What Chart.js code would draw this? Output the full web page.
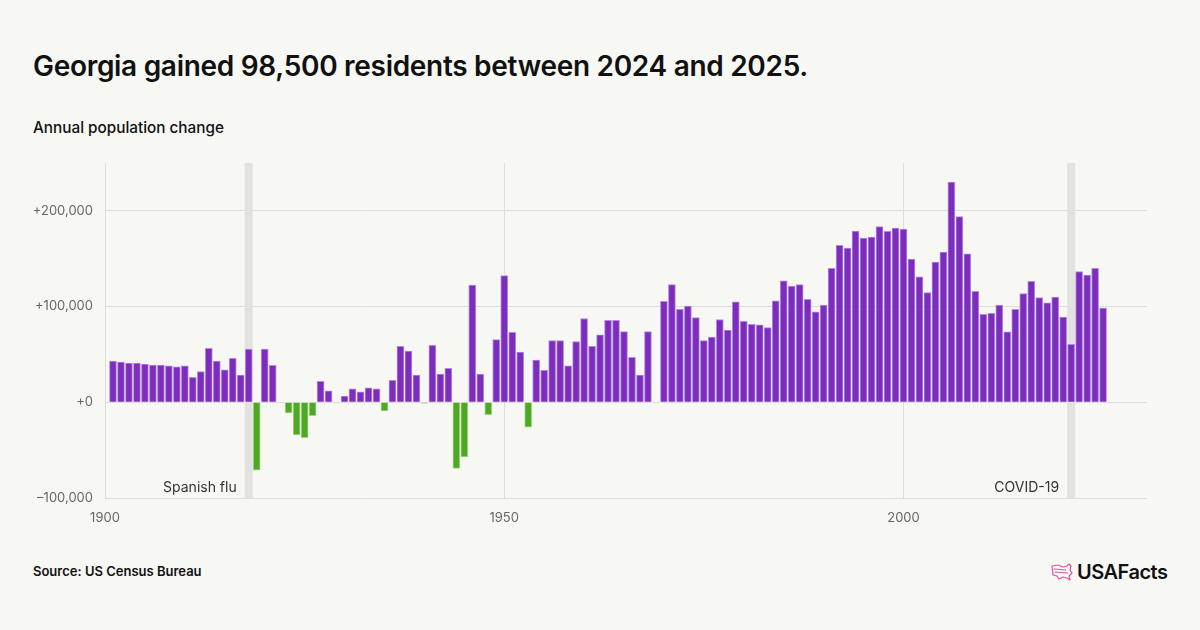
<!DOCTYPE html>
<html>
<head>
<meta charset="utf-8">
<script src="https://cdn.jsdelivr.net/npm/chart.js@4"></script>
<style>
  html, body { margin: 0; padding: 0; background: #f7f7f3; }
  body { width: 1200px; height: 630px; position: relative; overflow: hidden; font-family: Inter, "Noto Sans", sans-serif; color: #111; }
  #title { position: absolute; left: 33px; top: 49px; font-size: 28px; font-weight: 600; letter-spacing: -0.3px; }
  #subtitle { position: absolute; left: 33px; top: 118px; font-size: 15.3px; font-weight: 500; }
  #source { position: absolute; left: 33px; top: 563px; font-size: 13px; font-weight: 600; }
  #logo { position: absolute; left: 1051px; top: 560px; display: flex; align-items: center; }
  #logo span { font-size: 20px; font-weight: 600; letter-spacing: -0.5px; margin-left: 4px; }
  #wrap { position: absolute; left: 0; top: 140px; width: 1200px; height: 400px; }
</style>
</head>
<body>
<div id="title">Georgia gained 98,500 residents between 2024 and 2025.</div>
<div id="subtitle">Annual population change</div>
<div id="wrap"><canvas id="chart"></canvas></div>
<div id="source">Source: US Census Bureau</div>
<div id="logo">
  <svg width="22" height="18" viewBox="0 0 22 18">
    <path d="M1 3 L7 2 L12 4 L16 3 L18 1 L20 3 L19 7 L21 10 L18 13 L19 17 L16 15 L12 14 L8 16 L6 13 L2 12 Z M3 6 L15 7 M4 9 L17 10" fill="none" stroke="#ea4f9c" stroke-width="1.2" stroke-linejoin="round"/>
  </svg>
  <span>USAFacts</span>
</div>

<script>
const firstYear = 1901;
const changes = [
  43000, 42000, 41000, 41000, 40000, 39000, 39000, 38000, 37000, 38000,
  26000, 32000, 56500, 43000, 34000, 46000, 28500, 55500, -71000, 55500,
  38500, null, -11000, -34000, -37000, -14000, 22000, 12000, null, 6500,
  14000, 11000, 15000, 14000, -9000, 23000, 58500, 53500, 28500, -1000,
  59500, 29500, 35500, -69000, -57000, 122500, 29500, -13000, 65500, 132500,
  73000, 52500, -26000, 44000, 33500, 64500, 64500, 38000, 63500, 87500,
  58500, 70500, 85500, 85500, 74000, 47000, 28500, 74000, null, 105500,
  123000, 97000, 100500, 88500, 64500, 68000, 86500, 75500, 105000, 84500,
  81500, 81000, 78000, 106000, 127000, 121500, 123000, 107500, 94500, 101500,
  140000, 164000, 161000, 179000, 171500, 172500, 183500, 178500, 182000, 181000,
  149500, 131000, 114500, 146500, 157000, 230000, 194000, 155000, 116000, 92000,
  93000, 101500, 73500, 97000, 113500, 126500, 109500, 104000, 110000, 89000,
  60500, 136500, 133000, 140000, 98500
];
const years = changes.map((v, i) => firstYear + i);

const yTicks = [-100000, 0, 100000, 200000];
const xTicks = [1900, 1950, 2000];

const events = [
  { year: 1918, label: 'Spanish flu' },
  { year: 2021, label: 'COVID-19' }
];

const purple = '#7d2dbe';
const green = '#4fa824';

const points = years.map((y, i) => ({ x: y, y: changes[i] }));

// grey bands for events, drawn behind the bars
const eventBands = {
  id: 'eventBands',
  beforeDatasetsDraw(chart) {
    const { ctx, chartArea, scales } = chart;
    ctx.save();
    events.forEach(ev => {
      const px = scales.x.getPixelForValue(ev.year);
      ctx.fillStyle = '#e2e2de';
      ctx.fillRect(px - 4, chartArea.top, 8, chartArea.bottom - chartArea.top);
      ctx.fillStyle = '#333';
      ctx.font = '14px Inter, "Noto Sans", sans-serif';
      ctx.textAlign = 'right';
      ctx.textBaseline = 'alphabetic';
      ctx.fillText(ev.label, px - 12, chartArea.bottom - 6);
    });
    ctx.restore();
  }
};

new Chart(document.getElementById('chart'), {
  type: 'bar',
  data: {
    datasets: [{
      data: points,
      backgroundColor: changes.map(v => v < 0 ? green : purple),
      borderColor: changes.map(v => v < 0 ? '#a3d68a' : '#b58ae0'),
      borderWidth: 1,
      barThickness: 7
    }]
  },
  options: {
    responsive: true,
    maintainAspectRatio: false,
    animation: false,
    layout: { padding: { top: 23, right: 53, left: 0, bottom: 0 } },
    plugins: {
      legend: { display: false },
      tooltip: { enabled: false }
    },
    scales: {
      x: {
        type: 'linear',
        min: 1900,
        max: 2030.5,
        offset: false,
        afterBuildTicks: s => { s.ticks = xTicks.map(v => ({ value: v })); },
        afterFit: s => { s.height = 42; },
        grid: { color: '#dcdcd8', drawTicks: false, offset: false },
        border: { display: false },
        ticks: {
          color: '#666',
          font: { family: 'Inter', size: 13 },
          padding: 12,
          callback: v => String(v)
        }
      },
      y: {
        min: -100000,
        max: 250000,
        afterBuildTicks: s => { s.ticks = yTicks.map(v => ({ value: v })); },
        afterFit: s => { s.width = 105; },
        grid: { color: '#dcdcd8', drawTicks: false },
        border: { display: false },
        ticks: {
          color: '#666',
          font: { family: 'Inter', size: 13 },
          padding: 12,
          callback: v => (v < 0 ? '–' : '+') + Math.abs(v).toLocaleString('en-US')
        }
      }
    }
  },
  plugins: [eventBands]
});
</script>
</body>
</html>
